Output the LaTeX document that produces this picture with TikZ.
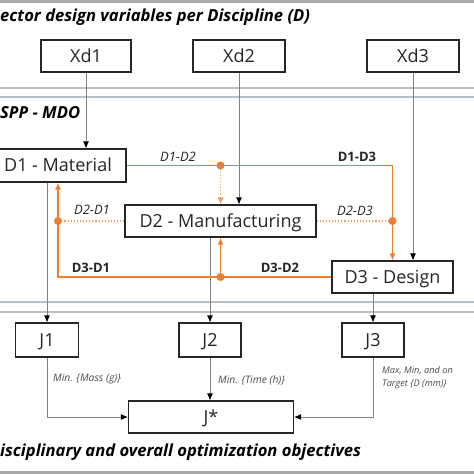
\documentclass[tikz,border=0pt]{standalone}
\usepackage{fontspec}
\setmainfont{Open Sans}
\usetikzlibrary{arrows.meta}

\definecolor{mdoorange}{HTML}{ED7D31}
\definecolor{linegray}{HTML}{808080}
\definecolor{sepgray}{HTML}{B7BFC7}
\definecolor{bandgray}{HTML}{A9A9A9}
\definecolor{textgray}{HTML}{262626}

\tikzset{
  box/.style={draw=black!85, line width=1.1pt, fill=white, text=textgray,
    font=\fontsize{18}{20}\selectfont, inner sep=0pt,
    text height=12.9pt, text depth=0pt},
  flow/.style={draw=linegray, line width=0.9pt,
    -{Latex[length=7pt, width=6pt, color=black]}},
  olink/.style={draw=mdoorange, line width=1.4pt},
  odot/.style={draw=mdoorange!75, line width=1.1pt, dotted},
  otip/.style={-{Latex[length=7pt, width=6pt]}},
  sep/.style={draw=sepgray, line width=1.1pt},
  lbl/.style={text=textgray, inner sep=0pt},
  lit/.style={lbl, font=\fontsize{13}{15}\selectfont\itshape},
  lbf/.style={lbl, font=\fontsize{13}{15}\selectfont\bfseries},
  note/.style={font=\fontsize{10.3}{13}\selectfont\itshape, text=black!70, inner sep=0pt, anchor=west},
  heading/.style={font=\fontsize{16.6}{19}\selectfont\bfseries\itshape, text=black, inner sep=0pt, anchor=west}
}

\begin{document}
\begin{tikzpicture}[x=1pt, y=-1pt]
        % ==== CANVAS ====
        \useasboundingbox (0,0) rectangle (474,474);
        \clip (0,0) rectangle (474,474);
        \fill[white] (0,0) rectangle (474,474);
        \fill[bandgray] (0,0) rectangle (474,3);
        \fill[bandgray] (0,471) rectangle (474,474);

        % ==== SEPARATORS ====
        \draw[sep] (0,88) -- (474,88);
        \draw[sep] (0,97) -- (474,97);
        \draw[sep] (0,302) -- (474,302);
        \draw[sep] (0,312) -- (474,312);

        % ==== HEADINGS ====
        \node[heading] (hvec) at (0,17) {ector design variables per Discipline (D)};
        \node[heading] (hmdo) at (0,113) {SPP - MDO};
        \node[heading] (hobj) at (0,452) {isciplinary and overall optimization objectives};

        % ==== DESIGN VARIABLES ====
        \node[box, minimum width=90, minimum height=32] (Xd1) at (86,56) {Xd1};
        \node[box, minimum width=92, minimum height=32] (Xd2) at (239,56) {Xd2};
        \node[box, minimum width=92, minimum height=32] (Xd3) at (413,56) {Xd3};

        % ==== DISCIPLINES ====
        \node[box, minimum width=136, minimum height=33] (D1) at (58,165.5) {D1 - Material};
        \node[box, minimum width=191, minimum height=32] (D2) at (220.5,221) {D2 - Manufacturing};
        \node[box, minimum width=121, minimum height=32] (D3) at (392.5,277) {D3 - Design};

        % ==== OBJECTIVES ====
        \node[box, minimum width=63, minimum height=34] (J1) at (47,340) {J1};
        \node[box, minimum width=62, minimum height=34] (J2) at (210,340) {J2};
        \node[box, minimum width=62, minimum height=34] (J3) at (373,340) {J3};
        \node[box, minimum width=165, minimum height=32] (Js) at (211,417) {J*};

        % ==== VARIABLES TO DISCIPLINES ====
        \draw[flow] (Xd1.south) -- (Xd1.south |- D1.north);
        \draw[flow] (Xd2.south) -- (Xd2.south |- D2.north);
        \draw[flow] (Xd3.south) -- (Xd3.south |- D3.north);

        % ==== DISCIPLINES TO OBJECTIVES ====
        \draw[flow] (J1.north |- D1.south) -- (J1.north);
        \draw[flow] (J2.north |- D2.south) -- (J2.north);
        \draw[flow] (J3.north |- D3.south) -- (J3.north);

        % ==== OBJECTIVES TO J* ====
        \draw[flow] (J1.south) |- (Js.west);
        \draw[flow] (J2.south) -- (J2.south |- Js.north);
        \draw[flow] (J3.south) |- (Js.east);
        \node[note] (n1) at (53,379) {Min. \{Mass (g)\}};
        \node[note] (n2) at (218,380) {Min. \{Time (h)\}};
        \node[note, align=left, font=\fontsize{9.2}{13}\selectfont\itshape] (n3) at (382,378) {Max, Min, and on\\Target \{D (mm)\}};

        % ==== COUPLING POINTS ====
        \coordinate (lx) at (58,0);
        \coordinate (c13) at (D3.north |- D1.east);
        \coordinate (d12) at (D2.north |- D1.east);
        \coordinate (d21) at (lx |- D2.west);
        \coordinate (d23) at (c13 |- D2.east);
        \coordinate (c31) at (lx |- D3.west);
        \coordinate (d32) at (d12 |- D3.west);

        % ==== D1 TO D2 AND D3 ====
        \draw[olink, otip] (D1.east) -- (c13) -- (D3.north);
        \draw[odot, otip] (d12) -- (D2.north);

        % ==== D2 TO D1 AND D3 ====
        \draw[odot] (D2.west) -- (d21);
        \draw[odot] (D2.east) -- (d23);

        % ==== D3 TO D1 AND D2 ====
        \draw[olink, otip] (D3.west) -- (c31) -- (lx |- D1.south);
        \draw[olink, otip] (d32) -- (d12 |- D2.south);

        % ==== DOTS ====
        \foreach \p in {d12,d21,d23,d32}
          \fill[mdoorange] (\p) circle (4pt);

        % ==== COUPLING LABELS ====
        \node[lit] (l12) at (178,157) {D1-D2};
        \node[lbf] (l13) at (357,157) {D1-D3};
        \node[lit] (l21) at (92,210) {D2-D1};
        \node[lit] (l23) at (355,211) {D2-D3};
        \node[lbf] (l31) at (91,268) {D3-D1};
        \node[lbf] (l32) at (280,268) {D3-D2};
\end{tikzpicture}
\end{document}
